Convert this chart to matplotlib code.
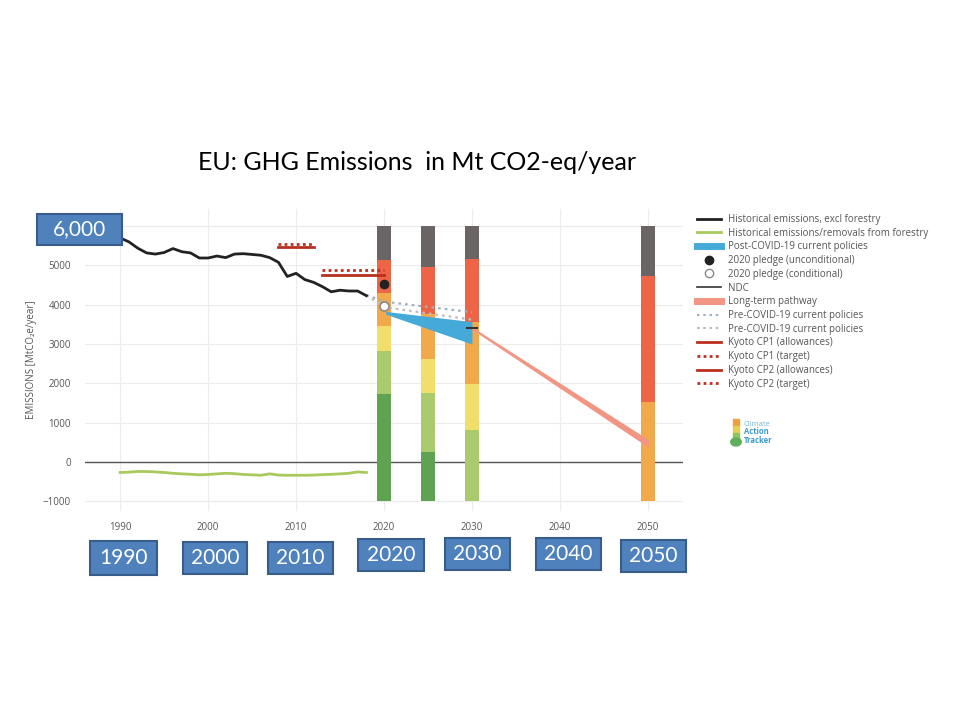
import numpy as np
import matplotlib
matplotlib.use("Agg")
import matplotlib.pyplot as plt
from matplotlib.patches import Rectangle
from matplotlib.lines import Line2D

plt.rcParams['font.family'] = ['Open Sans', 'DejaVu Sans']

# --- data (MtCO2e/year) ---
hist_years = np.arange(1990, 2019)
hist_excl_forestry = [5700, 5600, 5440, 5320, 5290, 5330, 5430, 5350, 5320, 5190,
                      5190, 5240, 5200, 5290, 5300, 5280, 5260, 5200, 5080, 4720,
                      4800, 4640, 4570, 4460, 4330, 4370, 4350, 4350, 4230]
hist_forestry = [-270, -260, -245, -245, -255, -270, -290, -305, -315, -330,
                 -320, -305, -290, -300, -320, -330, -340, -305, -335, -340,
                 -340, -340, -335, -325, -315, -305, -290, -255, -270]

# rating bars: upper bound of each band, bands stacked from -1000
bar_years = [2020, 2025, 2030, 2050]
bar_floor = -1000
band_names = ['Role model', '1.5°C compatible', '2°C compatible',
              'Insufficient', 'Highly insufficient', 'Critically insufficient']
band_colors = ['#5fa352', '#a9cb6d', '#f2df6b', '#f2a94b', '#ee6446', '#6b6464']
band_tops = [
    [1730, 250, -1000, -1000],   # dark green
    [2820, 1760, 800, -1000],    # light green
    [3460, 2620, 1990, -1000],   # yellow
    [4290, 3770, 3560, 1520],    # orange
    [5140, 4950, 5160, 4730],    # red
    [6000, 6000, 6000, 6000],    # grey
]

kyoto_cp1_years = [2008, 2012]
kyoto_cp1_allow = 5470
kyoto_cp1_target = 5540
kyoto_cp2_years = [2013, 2020]
kyoto_cp2_allow = 4760
kyoto_cp2_target = 4880

pledge_year = 2020
pledge_uncond = 4530
pledge_cond = 3970

precovid_years = [2018, 2020, 2030]
precovid_a = [4250, 4080, 3810]
precovid_b = [4250, 3940, 3620]

postcovid_years = [2020.2, 2030]
postcovid_low = [3760, 3000]
postcovid_high = [3830, 3570]

ndc_years = [2029.4, 2030.6]
ndc_value = 3420

longterm_years = [2030, 2050]
longterm_low = [3390, 400]
longterm_high = [3420, 560]

year_ticks = [1990, 2000, 2010, 2020, 2030, 2040, 2050]
y_ticks = [-1000, 0, 1000, 2000, 3000, 4000, 5000]

W, H = 960, 720


def fx(px):
    return px / W


def fy(py):
    return 1 - py / H


fig = plt.figure(figsize=(9.6, 7.2), dpi=100)
fig.patch.set_facecolor('white')
ax = fig.add_axes([fx(85), fy(511), fx(683) - fx(85), fy(208.5) - fy(511)])

# grid
for yr in year_ticks:
    ax.axvline(yr, color='#ececec', lw=0.8, zorder=0)
for v in [-1000, 1000, 2000, 3000, 4000, 5000, 6000]:
    ax.axhline(v, color='#ececec', lw=0.8, zorder=0)
ax.axhline(0, color='#555555', lw=1.0, zorder=1)

# rating bars
bottoms = np.full(len(bar_years), bar_floor, dtype=float)
for tops, col in zip(band_tops, band_colors):
    tops = np.array(tops, dtype=float)
    heights = tops - bottoms
    ax.bar(bar_years, heights, bottom=bottoms, width=1.6, color=col, zorder=2)
    bottoms = np.maximum(bottoms, tops)

# historical
ax.plot(hist_years, hist_excl_forestry, color='#222222', lw=2, zorder=5,
        solid_joinstyle='round')
ax.plot(hist_years, hist_forestry, color='#a9c95c', lw=2, zorder=5)

# kyoto
kred = '#b9301f'
ax.plot(kyoto_cp1_years, [kyoto_cp1_allow] * 2, color=kred, lw=2, zorder=5)
ax.plot(kyoto_cp1_years, [kyoto_cp1_target] * 2, color=kred, lw=2, ls=(0, (1, 1.2)), zorder=5)
ax.plot(kyoto_cp2_years, [kyoto_cp2_allow] * 2, color=kred, lw=2, zorder=5)
ax.plot(kyoto_cp2_years, [kyoto_cp2_target] * 2, color=kred, lw=2, ls=(0, (1, 1.2)), zorder=5)

# pre-covid
ax.plot(precovid_years, precovid_a, color='#9fb1c0', lw=1.6, ls=(0, (1.2, 1.8)), zorder=4)
ax.plot(precovid_years, precovid_b, color='#bdbdbd', lw=1.6, ls=(0, (1.2, 1.8)), zorder=4)

# post-covid band
ax.fill_between(postcovid_years, postcovid_low, postcovid_high, color='#45aad8',
                lw=0, zorder=6)

# long term pathway
ax.fill_between(longterm_years, longterm_low, longterm_high, color='#f29583',
                lw=0.8, edgecolor='#f29583', zorder=6)

# ndc
ax.plot(ndc_years, [ndc_value] * 2, color='#333333', lw=1.5, zorder=7)

# pledges
ax.plot([pledge_year], [pledge_uncond], 'o', color='#222222', ms=6, zorder=8)
ax.plot([pledge_year], [pledge_cond], 'o', mfc='white', mec='#888888', mew=1.2,
        ms=6.5, zorder=8)

ax.set_xlim(1986, 2054)
ax.set_ylim(-1250, 6450)
ax.set_xticks(year_ticks)
ax.set_yticks(y_ticks)
ax.tick_params(length=0, labelsize=7, labelcolor='#555555')
ax.tick_params(axis='x', pad=8)
ax.tick_params(axis='y', pad=10)
for s in ax.spines.values():
    s.set_visible(False)
ax.set_ylabel('EMISSIONS [MtCO₂e/year]', fontsize=7, color='#555555', labelpad=4)

# legend
handles = [
    Line2D([], [], color='#222222', lw=2),
    Line2D([], [], color='#a9c95c', lw=2),
    Line2D([], [], color='#45aad8', lw=5),
    Line2D([], [], ls='none', marker='o', color='#222222', ms=6),
    Line2D([], [], ls='none', marker='o', mfc='white', mec='#888888', ms=6),
    Line2D([], [], color='#333333', lw=1.2),
    Line2D([], [], color='#f29583', lw=5),
    Line2D([], [], color='#9fb1c0', lw=1.5, ls=(0, (1.2, 1.8))),
    Line2D([], [], color='#bdbdbd', lw=1.5, ls=(0, (1.2, 1.8))),
    Line2D([], [], color=kred, lw=2),
    Line2D([], [], color=kred, lw=2, ls=(0, (1, 1.2))),
    Line2D([], [], color=kred, lw=2),
    Line2D([], [], color=kred, lw=2, ls=(0, (1, 1.2))),
]
labels = ['Historical emissions, excl forestry',
          'Historical emissions/removals from forestry',
          'Post-COVID-19 current policies',
          '2020 pledge (unconditional)',
          '2020 pledge (conditional)',
          'NDC',
          'Long-term pathway',
          'Pre-COVID-19 current policies',
          'Pre-COVID-19 current policies',
          'Kyoto CP1 (allowances)',
          'Kyoto CP1 (target)',
          'Kyoto CP2 (allowances)',
          'Kyoto CP2 (target)']
leg = ax.legend(handles, labels, loc='upper left',
                bbox_to_anchor=(fx(697), fy(214)), bbox_transform=fig.transFigure,
                frameon=False, fontsize=7, labelcolor='#555555', handlelength=2.5,
                handletextpad=0.7, labelspacing=0.28, borderpad=0, borderaxespad=0)

# climate action tracker logo
therm = [('#f0a040', 419), ('#e6cf52', 426), ('#8cc45e', 433)]
for col, top in therm:
    fig.add_artist(Rectangle((fx(733), fy(top + 7)), fx(6), fy(top) - fy(top + 7),
                             transform=fig.transFigure, color=col))
fig.add_artist(plt.Circle((fx(736), fy(442)), 0.0055, transform=fig.transFigure,
                          color='#5cae5a'))
fig.text(fx(744), fy(424), 'Climate', fontsize=5.5, color='#7ab7d8', va='center')
fig.text(fx(744), fy(432), 'Action', fontsize=5.5, color='#3b98cf',
         fontweight='bold', va='center')
fig.text(fx(744), fy(440), 'Tracker', fontsize=5.5, color='#3b98cf',
         fontweight='bold', va='center')

# title
fig.text(fx(417), fy(163), 'EU: GHG Emissions  in Mt CO2-eq/year', fontsize=18,
         family=['Lato', 'DejaVu Sans'], ha='center', va='center', color='black')

# blue call-out boxes
box_fill = '#4f81bd'
box_edge = '#385d8a'


def callout(text, x0, y0, x1, y1):
    fig.add_artist(Rectangle((fx(x0), fy(y1)), fx(x1) - fx(x0), fy(y0) - fy(y1),
                             transform=fig.transFigure, facecolor=box_fill,
                             edgecolor=box_edge, lw=1.5))
    fig.text(fx((x0 + x1) / 2), fy((y0 + y1) / 2), text, fontsize=15,
             family=['Lato', 'DejaVu Sans'], color='white', ha='center', va='center')


callout('6,000', 37, 214, 122, 245)
year_boxes = [('1990', 90, 541, 157, 575), ('2000', 183, 542, 247, 574),
              ('2010', 268, 542, 333, 574), ('2020', 358, 539, 424, 571),
              ('2030', 445, 538, 510, 570), ('2040', 536, 538, 601, 570),
              ('2050', 621, 540, 686, 572)]
for lab, a, b, c, d in year_boxes:
    callout(lab, a, b, c, d)

fig.savefig('out.png', dpi=100, facecolor='white')
